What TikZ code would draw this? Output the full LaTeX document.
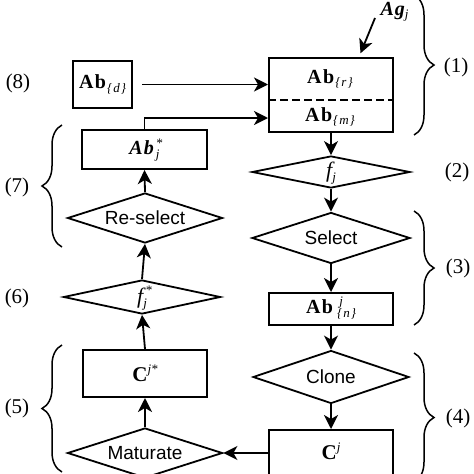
\documentclass[tikz,border=0pt]{standalone}
\usepackage{fontspec}
\setmainfont{Liberation Serif}
\newfontfamily\sansf{Liberation Sans}
\usetikzlibrary{shapes.geometric,arrows.meta,decorations.pathreplacing}
\newcommand{\subx}[1]{\raisebox{-0.4ex}{\fontsize{13}{13}\selectfont\mdseries\itshape #1}}
\newcommand{\supx}[1]{\raisebox{0.85ex}{\fontsize{13}{13}\selectfont\mdseries\itshape #1}}
\newcommand{\AbB}{\textbf{A\kern1.5pt b}\kern1pt}
\begin{document}
\begin{tikzpicture}[x=1pt,y=-1pt,
  box/.style={draw,line width=2pt,rectangle,inner sep=0pt},
  dia/.style={draw,line width=1.8pt,diamond,aspect=3,inner sep=0pt,font=\sansf\fontsize{19}{19}\selectfont},
  arr/.style={line width=1.8pt,-{Stealth[length=14pt,width=14pt,inset=4pt]}},
  brc/.style={decorate,decoration={brace,amplitude=20pt},line width=1.5pt},
  lbl/.style={font=\fontsize{21}{21}\selectfont},
  mtext/.style={font=\fontsize{20}{20}\selectfont}]
\useasboundingbox (0,0) rectangle (474,474);
\clip (0,0) rectangle (474,474);

% right column
\node[box,minimum width=124pt,minimum height=74pt] (R) at (331,95) {};
\draw[line width=2pt,dash pattern=on 8pt off 4pt] ([yshift=-5pt]R.west) -- ([yshift=-5pt]R.east);
\node[mtext] (Rr) at (330,79) {\AbB\subx{\{\kern1pt r\kern1pt\}}};
\node[mtext] (Rm) at (330,117) {\AbB\subx{\{\kern1pt m\kern1pt\}}};
\node[dia,minimum width=158pt,minimum height=32pt] (fj) at (331,172) {};
\node[font=\fontsize{22}{22}\selectfont] (fjt) at (331,173) {\itshape f\subx{j}};
\node[dia,minimum width=158pt,minimum height=51pt] (sel) at (331,238) {Select};
\node[box,minimum width=124pt,minimum height=32pt] (abn) at (331,309) {};
\node[mtext] (abnt) at (331,308) {\AbB\kern3pt\rlap{\supx{\,j}}\subx{\{\kern1pt n\kern1pt\}}};
\node[dia,minimum width=156pt,minimum height=53pt] (clone) at (331,377) {Clone};
\node[box,minimum width=124pt,minimum height=46pt] (Cj) at (331,453) {};
\node[font=\fontsize{21}{21}\selectfont] (Cjt) at (331,451) {\bfseries C\supx{j}};

% left column
\node[box,minimum width=59pt,minimum height=47pt] (D) at (102.5,84.5) {};
\node[mtext] (Dt) at (102.5,84.5) {\AbB\subx{\{\kern1pt d\kern1pt\}}};
\node[box,minimum width=125pt,minimum height=39pt] (S) at (144.5,149.5) {};
\node[mtext] (St) at (144.5,150) {\bfseries\itshape A\kern1pt b\rlap{\supx{\,*}}\subx{\,j}};
\node[dia,minimum width=155pt,minimum height=50pt] (resel) at (145,218) {Re-select};
\node[dia,minimum width=157pt,minimum height=34pt] (fjs) at (142,297) {};
\node[font=\fontsize{22}{22}\selectfont] (fjst) at (142,298) {\itshape f\rlap{\supx{\,*}}\subx{j}};
\node[box,minimum width=124pt,minimum height=47pt] (Cs) at (145,373.5) {};
\node[font=\fontsize{21}{21}\selectfont] (Cst) at (145,373) {\bfseries C\supx{j*}};
\node[dia,minimum width=155pt,minimum height=50pt] (mat) at (145,453) {Maturate};

% Ag input
\node[mtext,anchor=base west] (ag) at (377,15) {\bfseries\itshape A\kern1pt g\subx{j}};
\coordinate (agtail) at (375,18);
\draw[arr,shorten >=4pt] (agtail) -- ([xshift=28pt]R.north);

% arrows
\draw[arr,shorten <=9pt] (D.east) -- (R.west |- D.east);
\draw[arr] (S.north) |- ([yshift=15pt]R.south west);
\draw[arr] (R.south) -- (fj.north);
\draw[arr] (fj.south) -- (sel.north);
\draw[arr] (sel.south) -- (abn.north);
\draw[arr] (abn.south) -- (clone.north);
\draw[arr] (clone.south) -- (Cj.north);
\draw[arr] (Cj.west) -- (mat.east);
\draw[arr] (mat.north) -- (Cs.south);
\draw[arr] (Cs.north) -- (fjs.south);
\draw[arr] (fjs.north) -- (resel.south);
\draw[arr] (resel.north) -- (S.south);

% braces
\coordinate (b1a) at (414,-5); \coordinate (b1b) at (414,135);
\draw[brc] (b1a) -- (b1b);
\coordinate (b3a) at (414,211); \coordinate (b3b) at (414,325);
\draw[brc] (b3a) -- (b3b);
\coordinate (b4a) at (414,353); \coordinate (b4b) at (414,482);
\draw[brc] (b4a) -- (b4b);
\coordinate (b7a) at (62,247); \coordinate (b7b) at (62,125);
\draw[brc] (b7a) -- (b7b);
\coordinate (b5a) at (62,472); \coordinate (b5b) at (62,345);
\draw[brc] (b5a) -- (b5b);

% step labels
\node[lbl] (l1) at (456,67) {(1)};
\node[lbl] (l2) at (457,172) {(2)};
\node[lbl] (l3) at (458,268) {(3)};
\node[lbl] (l4) at (458,418) {(4)};
\node[lbl] (l5) at (17,408) {(5)};
\node[lbl] (l6) at (17,298) {(6)};
\node[lbl] (l7) at (17,187) {(7)};
\node[lbl] (l8) at (18,83) {(8)};
\end{tikzpicture}
\end{document}
